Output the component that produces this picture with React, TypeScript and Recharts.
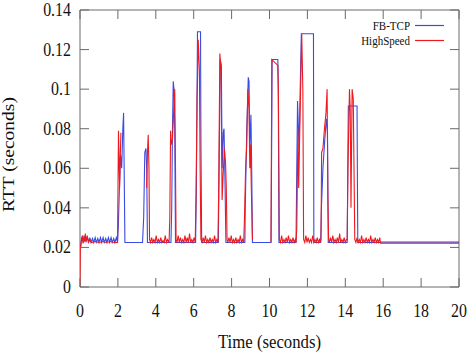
import React from 'react';
import { LineChart, Line, XAxis, YAxis, ReferenceArea, Legend } from 'recharts';

const X_TICKS = [0, 2, 4, 6, 8, 10, 12, 14, 16, 18, 20];
const Y_TICKS = [0, 0.02, 0.04, 0.06, 0.08, 0.1, 0.12, 0.14];
const Y_TICK_LABELS = ['0', '0.02', '0.04', '0.06', '0.08', '0.1', '0.12', '0.14'];
const X_TITLE = 'Time (seconds)';
const Y_TITLE = 'RTT (seconds)';
const SERIES_NAMES = ['FB-TCP', 'HighSpeed'];

// FB-TCP: [time (s), RTT (s)]
const fbTcpPoints: [number, number][] = [
  [0.04, 0.02], [0.08, 0.025], [0.12, 0.023], [0.16, 0.026], [0.2, 0.0225], [0.26, 0.026], [0.32, 0.023],
  [0.4, 0.025], [0.46, 0.0225], [0.52, 0.025], [0.58, 0.0225], [0.66, 0.0245], [0.72, 0.0225], [0.8, 0.025],
  [0.86, 0.0225], [0.94, 0.0245], [1.0, 0.0225], [1.08, 0.025], [1.14, 0.0225], [1.22, 0.025], [1.28, 0.0225],
  [1.36, 0.0245], [1.42, 0.0225], [1.5, 0.025], [1.56, 0.0225], [1.64, 0.025], [1.7, 0.0225], [1.78, 0.0245],
  [1.84, 0.0225], [1.92, 0.025], [1.98, 0.0225],
  [2.02, 0.03], [2.08, 0.05], [2.14, 0.067], [2.2, 0.06], [2.26, 0.08], [2.3, 0.088], [2.33, 0.06], [2.37, 0.0225],
  [3.3, 0.0225], [3.36, 0.035], [3.42, 0.068], [3.48, 0.07], [3.52, 0.06], [3.56, 0.0225],
  [4.8, 0.0225], [4.84, 0.04], [4.88, 0.08], [4.92, 0.104], [4.96, 0.1], [5.0, 0.08], [5.04, 0.0225],
  [6.1, 0.0225], [6.14, 0.05], [6.2, 0.129], [6.36, 0.129], [6.38, 0.076], [6.42, 0.0225],
  [7.3, 0.0225], [7.34, 0.06], [7.4, 0.115], [7.46, 0.112], [7.5, 0.06], [7.56, 0.078], [7.6, 0.08], [7.64, 0.06], [7.7, 0.0225],
  [8.7, 0.0225], [8.72, 0.04], [8.8, 0.08], [8.88, 0.106], [8.92, 0.104], [8.96, 0.07], [9.02, 0.087], [9.06, 0.06], [9.1, 0.0225],
  [10.08, 0.0225], [10.12, 0.08], [10.14, 0.115], [10.44, 0.115], [10.46, 0.103], [10.5, 0.0225],
  [11.4, 0.0225], [11.44, 0.06], [11.48, 0.094], [11.56, 0.07], [11.62, 0.1], [11.68, 0.128], [12.32, 0.128], [12.34, 0.0225],
  [12.7, 0.0225], [12.74, 0.04], [12.82, 0.06], [12.92, 0.075], [13.0, 0.085], [13.06, 0.078], [13.1, 0.0225],
  [14.1, 0.0225], [14.14, 0.07], [14.16, 0.0915], [14.62, 0.0915], [14.64, 0.052], [14.66, 0.0225],
  [15.88, 0.0225], [15.9, 0.0227], [20.0, 0.0227],
];

// HighSpeed: [time (s), RTT (s)], null = no sample
const highSpeedPoints: [number, number | null][] = [
  [0.0, 0.0], [0.02, 0.02], [0.08, 0.024], [0.12, 0.026], [0.16, 0.022], [0.2, 0.025], [0.24, 0.023], [0.28, 0.027],
  [0.32, 0.023], [0.38, 0.026], [0.44, 0.0225], [0.52, 0.024], [0.6, 0.0225], [0.8, 0.023], [1.0, 0.0225],
  [1.2, 0.023], [1.4, 0.0225], [1.6, 0.023], [1.8, 0.0225], [1.98, 0.0225],
  [2.0, 0.045], [2.03, 0.079], [2.06, 0.066], [2.09, 0.05], [2.12, 0.064], [2.16, 0.078],
  [2.8, null],
  [3.52, 0.05], [3.56, 0.068], [3.6, 0.077], [3.64, 0.06], [3.67, 0.024],
  [3.72, 0.0225], [3.78, 0.025], [3.84, 0.0225], [3.9, 0.024], [3.96, 0.0225], [4.02, 0.026], [4.08, 0.0225],
  [4.14, 0.024], [4.2, 0.0225], [4.26, 0.025], [4.32, 0.0225], [4.38, 0.0235], [4.44, 0.0225], [4.5, 0.026],
  [4.56, 0.0225], [4.62, 0.024], [4.7, 0.0225],
  [4.74, 0.035], [4.78, 0.079], [4.82, 0.072], [4.88, 0.075], [4.95, 0.09], [5.0, 0.1], [5.04, 0.06], [5.07, 0.024],
  [5.12, 0.0225], [5.18, 0.026], [5.24, 0.0225], [5.3, 0.025], [5.36, 0.0225], [5.42, 0.024], [5.48, 0.0225],
  [5.54, 0.026], [5.6, 0.0225], [5.66, 0.025], [5.72, 0.0225], [5.78, 0.027], [5.84, 0.0225], [5.9, 0.024],
  [5.96, 0.0225], [6.02, 0.025], [6.08, 0.0225],
  [6.12, 0.045], [6.18, 0.095], [6.24, 0.125], [6.3, 0.11], [6.34, 0.06], [6.38, 0.024],
  [6.44, 0.0225], [6.5, 0.025], [6.56, 0.0225], [6.62, 0.026], [6.68, 0.0225], [6.74, 0.024], [6.8, 0.0225],
  [6.86, 0.025], [6.92, 0.0225], [6.98, 0.024], [7.04, 0.0225], [7.1, 0.026], [7.16, 0.0225], [7.22, 0.024], [7.28, 0.0225],
  [7.32, 0.05], [7.38, 0.118], [7.44, 0.11], [7.5, 0.044], [7.56, 0.058], [7.62, 0.07], [7.68, 0.063], [7.72, 0.05], [7.76, 0.024],
  [7.8, 0.0225], [7.86, 0.025], [7.92, 0.0225], [7.98, 0.026], [8.04, 0.0225], [8.1, 0.024], [8.16, 0.0225],
  [8.22, 0.025], [8.28, 0.0225], [8.34, 0.024], [8.4, 0.0225], [8.46, 0.026], [8.52, 0.0225], [8.58, 0.024], [8.64, 0.0225],
  [8.68, 0.035], [8.74, 0.06], [8.8, 0.072], [8.86, 0.1], [8.92, 0.09], [8.96, 0.06], [9.0, 0.072], [9.04, 0.05], [9.1, 0.024],
  [9.5, null],
  [10.08, 0.0225], [10.12, 0.115], [10.44, 0.112], [10.47, 0.098], [10.52, 0.024],
  [10.58, 0.0225], [10.64, 0.026], [10.7, 0.0225], [10.76, 0.024], [10.82, 0.0225], [10.88, 0.025], [10.94, 0.0225],
  [11.0, 0.026], [11.06, 0.0225], [11.12, 0.024], [11.18, 0.0225], [11.24, 0.025], [11.3, 0.0225], [11.36, 0.024], [11.4, 0.0225],
  [11.44, 0.03], [11.5, 0.08], [11.54, 0.05], [11.6, 0.08], [11.7, 0.128], [11.76, 0.1], [11.8, 0.024],
  [11.86, 0.0225], [11.92, 0.026], [11.98, 0.0225], [12.04, 0.025], [12.1, 0.0225], [12.16, 0.024], [12.22, 0.0225],
  [12.28, 0.026], [12.34, 0.0225], [12.4, 0.024], [12.46, 0.0225], [12.52, 0.025], [12.58, 0.0225], [12.64, 0.024], [12.68, 0.0225],
  [12.72, 0.024], [12.75, 0.068], [12.82, 0.07], [12.9, 0.08], [12.98, 0.088], [13.04, 0.1], [13.08, 0.045], [13.12, 0.024],
  [13.16, 0.0225], [13.22, 0.025], [13.28, 0.0225], [13.34, 0.026], [13.4, 0.0225], [13.46, 0.024], [13.52, 0.0225],
  [13.58, 0.025], [13.64, 0.0225], [13.7, 0.027], [13.76, 0.0225], [13.82, 0.024], [13.88, 0.0225], [13.94, 0.025],
  [14.0, 0.0225], [14.06, 0.024],
  [14.1, 0.024], [14.14, 0.06], [14.22, 0.1], [14.26, 0.09], [14.3, 0.04], [14.36, 0.1], [14.42, 0.095], [14.46, 0.06], [14.5, 0.024],
  [14.56, 0.0225], [14.62, 0.025], [14.68, 0.0225], [14.74, 0.024], [14.8, 0.0225], [14.86, 0.026], [14.92, 0.0225],
  [14.98, 0.024], [15.04, 0.0225], [15.1, 0.025], [15.16, 0.0225], [15.22, 0.024], [15.28, 0.0225], [15.34, 0.026],
  [15.4, 0.0225], [15.46, 0.024], [15.52, 0.0225], [15.58, 0.025], [15.64, 0.0225], [15.7, 0.024], [15.76, 0.0225],
  [15.82, 0.025], [15.86, 0.0221], [20.0, 0.0221],
];

const fbData = fbTcpPoints.map(([t, v]) => ({ t, v }));
const hsData = highSpeedPoints.map(([t, v]) => ({ t, v }));

const W = 474;
const H = 354;
const MARGIN = { top: 10, right: 15, left: 0, bottom: 27 };
const Y_AXIS_W = 80;
const X_AXIS_H = 40;
const PLOT_W = W - MARGIN.left - MARGIN.right - Y_AXIS_W;
const PLOT_H = H - MARGIN.top - MARGIN.bottom - X_AXIS_H;

const BLUE = '#3a4be2';
const RED = '#ef1a1f';
const FRAME = '#6a6a6a';
const FONT = "'Liberation Serif', 'DejaVu Serif', serif";
const SQ = 0.86;
const TICK_LEN = 9;

const textStyle = (size: number): React.CSSProperties => ({
  fontFamily: FONT,
  fontSize: size,
  fontWeight: 400,
  fill: '#111',
});

const XTick = (props: any) => {
  const { x, y, payload } = props;
  return (
    <g>
      <line x1={x} x2={x} y1={y} y2={y - TICK_LEN} stroke={FRAME} />
      <line x1={x} x2={x} y1={y - PLOT_H} y2={y - PLOT_H + TICK_LEN} stroke={FRAME} />
      <text
        transform={`translate(${x},${y + 30}) scale(${SQ},1)`}
        textAnchor="middle"
        style={textStyle(18.5)}
      >
        {payload.value}
      </text>
    </g>
  );
};

const YTick = (props: any) => {
  const { x, y, index } = props;
  return (
    <g>
      <line x1={x} x2={x + TICK_LEN} y1={y} y2={y} stroke={FRAME} />
      <line x1={x + PLOT_W} x2={x + PLOT_W - TICK_LEN} y1={y} y2={y} stroke={FRAME} />
      <text
        transform={`translate(${x - 9},${y + 6}) scale(${SQ},1)`}
        textAnchor="end"
        style={textStyle(18.5)}
      >
        {Y_TICK_LABELS[index]}
      </text>
    </g>
  );
};

const XTitle = (props: any) => {
  const vb = props.viewBox || { x: 80, y: 287, width: PLOT_W };
  const cx = vb.x + vb.width / 2;
  return (
    <text
      transform={`translate(${cx},${vb.y + 61}) scale(${SQ},1)`}
      textAnchor="middle"
      style={textStyle(19.5)}
    >
      {X_TITLE}
    </text>
  );
};

const YTitle = (props: any) => {
  const vb = props.viewBox || { x: 0, y: 10, height: PLOT_H };
  const cy = vb.y + vb.height / 2 + 6;
  return (
    <text
      transform={`translate(14,${cy}) scale(${SQ},1) rotate(-90)`}
      textAnchor="middle"
      style={textStyle(19.5)}
    >
      {Y_TITLE}
    </text>
  );
};

const LegendBox = () => {
  const colors = [BLUE, RED];
  return (
    <svg width={W} height={60} style={{ display: 'block' }}>
      {SERIES_NAMES.map((name, i) => (
        <g key={name}>
          <text
            transform={`translate(410,${30 + i * 14.5}) scale(${SQ},1)`}
            textAnchor="end"
            style={textStyle(12.8)}
          >
            {name}
          </text>
          <line x1={415} x2={444} y1={25.5 + i * 15} y2={25.5 + i * 15} stroke={colors[i]} strokeWidth={1.2} />
        </g>
      ))}
    </svg>
  );
};

export default function App() {
  return (
    <div style={{ position: 'absolute', left: 0, top: 0, width: W, height: H, background: '#fff' }}>
      <LineChart width={W} height={H} margin={MARGIN}>
        <XAxis
          type="number"
          dataKey="t"
          domain={[0, 20]}
          ticks={X_TICKS}
          interval={0}
          allowDataOverflow
          axisLine={false}
          tickLine={false}
          tickSize={0}
          tickMargin={0}
          height={X_AXIS_H}
          tick={(p: any) => <XTick {...p} />}
          label={<XTitle />}
        />
        <YAxis
          type="number"
          domain={[0, 0.14]}
          ticks={Y_TICKS}
          interval={0}
          allowDataOverflow
          axisLine={false}
          tickLine={false}
          tickSize={0}
          tickMargin={0}
          width={Y_AXIS_W}
          tick={(p: any) => <YTick {...p} />}
          label={<YTitle />}
        />
        <Line
          name={SERIES_NAMES[0]}
          data={fbData}
          dataKey="v"
          type="linear"
          stroke={BLUE}
          strokeWidth={1.1}
          dot={false}
          isAnimationActive={false}
        />
        <Line
          name={SERIES_NAMES[1]}
          data={hsData}
          dataKey="v"
          type="linear"
          stroke={RED}
          strokeWidth={1.1}
          dot={false}
          connectNulls={false}
          isAnimationActive={false}
        />
        <ReferenceArea
          x1={0}
          x2={20}
          y1={0}
          y2={0.14}
          fill="none"
          stroke={FRAME}
          strokeWidth={1}
          ifOverflow="visible"
        />
        <Legend
          layout="horizontal"
          verticalAlign="middle"
          align="center"
          wrapperStyle={{ position: 'absolute', top: 0, left: 0, width: W, height: 60, pointerEvents: 'none' }}
          content={() => <LegendBox />}
        />
      </LineChart>
    </div>
  );
}
